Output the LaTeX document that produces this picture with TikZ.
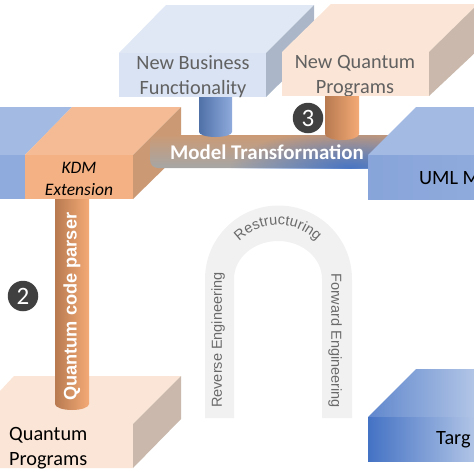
\documentclass[tikz,border=0pt]{standalone}
\usepackage{fontspec}
\setmainfont{Carlito}
\newfontfamily\arialfont{Liberation Sans}
\usetikzlibrary{decorations.text, fadings}
\definecolor{palepeach}{HTML}{FBE5D6}
\definecolor{palepeachside}{HTML}{C9B8AB}
\definecolor{paleblue}{HTML}{DAE3F3}
\definecolor{palebluetop}{HTML}{DFE8F4}
\definecolor{paleblueside}{HTML}{ABB7C9}
\definecolor{kdmfront}{HTML}{F4B183}
\definecolor{kdmtop}{HTML}{F4BB94}
\definecolor{kdmside}{HTML}{CB9A75}
\definecolor{midblue}{HTML}{8FAADC}
\definecolor{midbluetop}{HTML}{A3BAE3}
\definecolor{deepblue}{HTML}{4472C4}
\definecolor{lightblue}{HTML}{B4C7E7}
\definecolor{darkbadge}{HTML}{404040}
\definecolor{archgray}{HTML}{F1F1F1}
\definecolor{archtext}{HTML}{6A6A6A}
\definecolor{copperdark}{HTML}{B87A50}
\definecolor{copperlight}{HTML}{F4AA76}
\definecolor{cylblue}{HTML}{4F71A8}
\definecolor{cylbluelight}{HTML}{8FAADC}
\tikzfading[name=bluepool, inner color=transparent!5, outer color=transparent!100]
\tikzset{
    boxlabel/.style={font=\fontsize{20.3}{25}\selectfont, align=center, inner sep=0pt},
    badge/.style={circle, fill=darkbadge, text=white, minimum size=30.5pt, inner sep=0pt, font=\fontsize{25}{25}\selectfont},
    archlabel/.style={font=\arialfont\fontsize{14.5}{14.5}\selectfont, text=archtext, inner sep=0pt},
    barlabel/.style={font=\bfseries\fontsize{20.9}{20.9}\selectfont, text=white, inner sep=0pt},
}
\begin{document}
\begin{tikzpicture}[x=1pt, y=-1pt]
    \useasboundingbox (0,0) rectangle (474,474);
    \clip (0,0) rectangle (474,474);
    % upper boxes
    \fill[palebluetop] (119,53) -- (166,5) -- (314,5) -- (266,53) -- cycle;
    \fill[paleblueside] (266,53) -- (314,5) -- (314,50) -- (266,97) -- cycle;
    \fill[paleblue] (119,53) rectangle (266,97);
    \fill[palepeach] (282,52) -- (331,4) -- (478,4) -- (429,52) -- cycle;
    \fill[palepeachside] (429,52) -- (478,4) -- (478,50) -- (429,96) -- cycle;
    \fill[palepeach] (282,52) rectangle (429,96);
    \node[boxlabel, text=black!62] (business) at (193,77) {New Business\\Functionality};
    \node[boxlabel, text=black!62] (newquantum) at (355,76) {New Quantum\\Programs};
    % blue box on the left, KDM box over it
    \fill[midbluetop] (0,107) -- (72,107) -- (25,155) -- (0,155) -- cycle;
    \fill[midblue] (0,155) rectangle (25,199);
    \fill[kdmtop] (25,155) -- (72,107) -- (181,107) -- (133,155) -- cycle;
    \fill[kdmside] (133,155) -- (181,107) -- (181,152) -- (133,199) -- cycle;
    \fill[kdmfront] (25,155) rectangle (133,199);
    \node[boxlabel, font=\fontsize{17.5}{22}\selectfont\itshape] (kdm) at (79,179) {KDM\\Extension};
    % bar and its two pillars
    \shade[top color=kdmside, bottom color=black!35!white, rounded corners=8pt]
        (150,135) rectangle (400,168);
    \begin{scope}
        \clip (150,135) rectangle (400,168);
        \fill[deepblue, path fading=bluepool] (230,130) rectangle (470,206);
    \end{scope}
    \shade[left color=cylblue, right color=cylbluelight]
        (199,97) -- (232,97) -- (232,132) arc (0:180:16.5 and 5) -- cycle;
    \shade[left color=copperdark, right color=copperlight]
        (325,96) -- (359,96) -- (359,134) arc (0:180:17 and 6) -- cycle;
    \node[barlabel] (transformation) at (267,152) {Model Transformation};
    % UML box
    \fill[midbluetop] (368,155) -- (416,107) -- (478,107) -- (478,155) -- cycle;
    \shade[left color=midblue!90!deepblue, right color=midblue] (368,155) rectangle (478,199);
    \node[boxlabel, anchor=west] (uml) at (419,178) {UML M};
    % target box
    \shade[left color=deepblue!75!lightblue, right color=lightblue] (368,417) -- (416,369) -- (478,369) -- (478,417) -- cycle;
    \shade[left color=deepblue, right color=lightblue] (368,417) rectangle (478,461);
    \node[boxlabel, anchor=west] (target) at (436,440) {Targ};
    % quantum programs box and parser pillar
    \fill[palepeach] (0,391) -- (14,376) -- (181,376) -- (133,424) -- (133,468) -- (0,468) -- cycle;
    \fill[palepeachside] (133,424) -- (181,376) -- (181,419) -- (133,468) -- cycle;
    \node[boxlabel, align=left, anchor=west] (programs) at (9,448) {Quantum\\Programs};
    \shade[left color=copperdark, right color=copperlight]
        (55,199) -- (89,199) -- (89,404) arc (0:180:17 and 6) -- cycle;
    \node[barlabel, font=\arialfont\bfseries\fontsize{18.2}{18.2}\selectfont, rotate=90, anchor=west] (parser) at (72,401) {Quantum code parser};
    % the arch
    \fill[archgray] (205,418) -- (205,279) arc (180:0:73.5 and -73.5) -- (352,418) -- (322,418) -- (322,279)
        arc (0:180:44 and -38) -- (234,418) -- cycle;
    \node[archlabel, rotate=90, anchor=west] (reverse) at (218,408) {Reverse Engineering};
    \node[archlabel, rotate=-90, anchor=west] (forward) at (335,273) {Forward Engineering};
    \path[decorate, decoration={text along path, text align=center,
        text={|\arialfont\fontsize{14.5}{14.5}\selectfont\color{archtext}|Restructuring}}]
        (224,279) arc (180:0:54 and -54);
    \node[badge] (two) at (23,296) {2};
    \node[badge] (three) at (308,118) {3};
\end{tikzpicture}
\end{document}
